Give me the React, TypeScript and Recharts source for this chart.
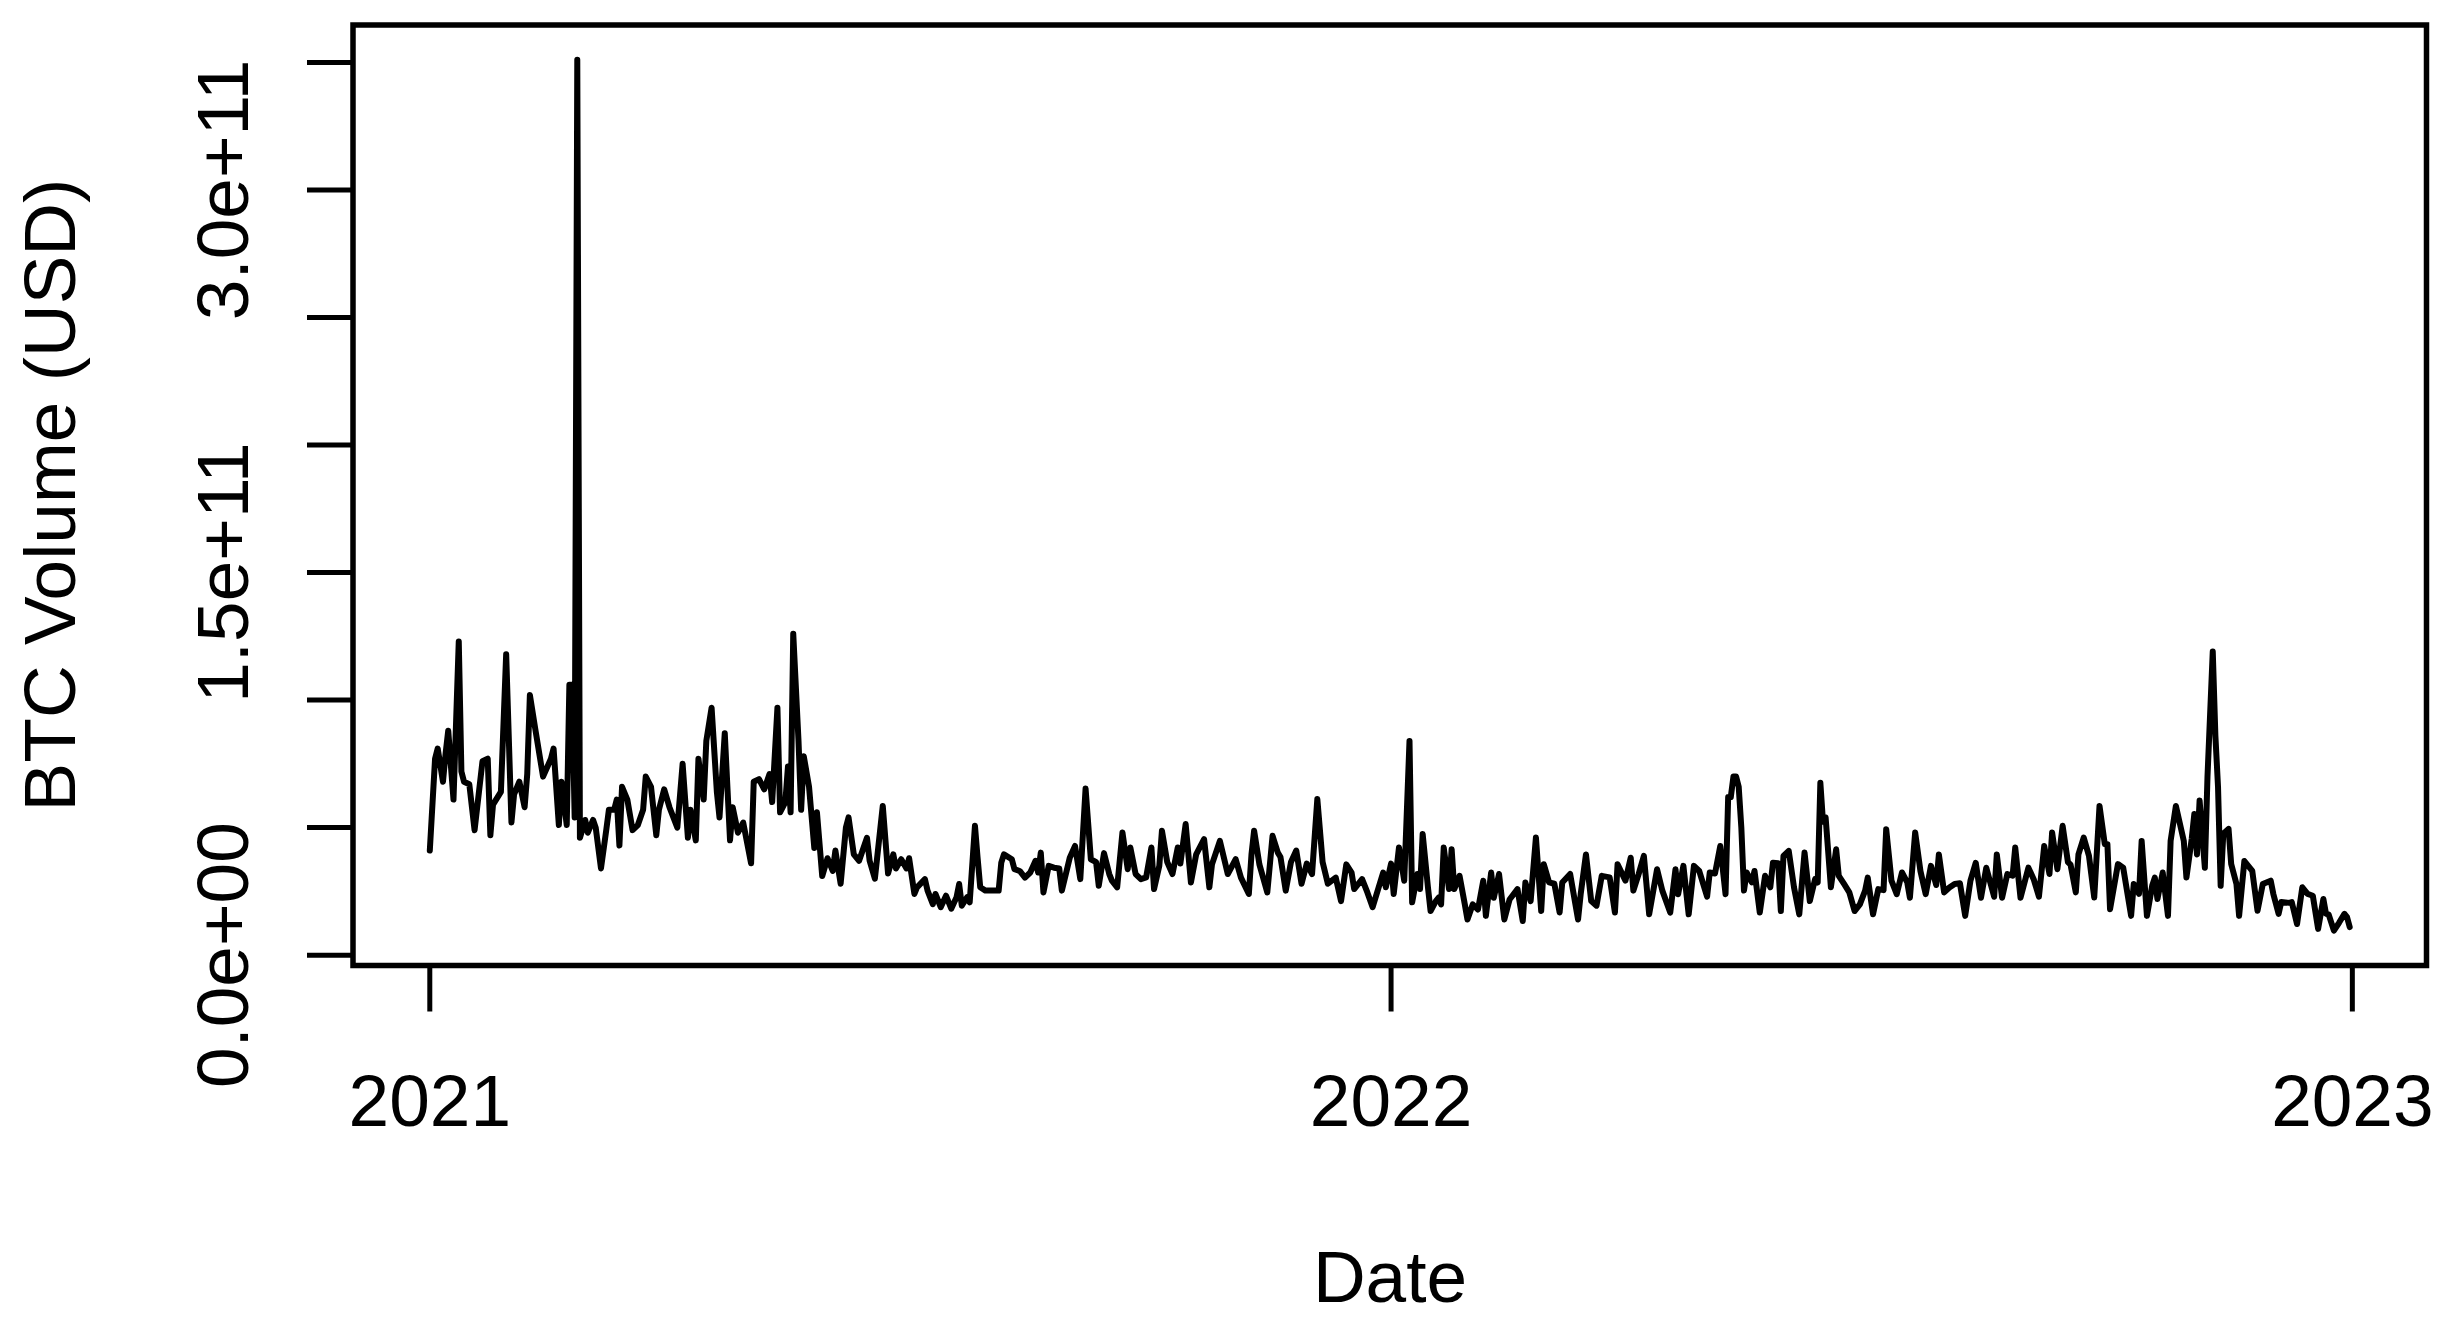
import { useMemo } from "react";
import { LineChart, Line, XAxis, YAxis, ReferenceArea } from "recharts";

const FONT = '"Liberation Sans", Arial, Helvetica, sans-serif';
const FONT_SIZE = 73;

// [days since 2021-01-01, volume in billions of USD]
const VOLUME_2021_H1: [number, number][] = [
  [0, 41], [2, 77], [3, 81], [5, 68], [6, 79], [7, 88], [9, 61], [10, 92], [11, 123], [12, 72],
  [13, 68], [15, 67], [17, 49], [20, 76], [22, 77], [23, 47], [24, 59], [27, 64], [29, 118], [31, 52],
  [32, 63], [34, 68], [36, 58], [37, 71], [38, 102], [40, 89], [43, 70], [46, 77], [47, 81], [49, 51],
  [50, 68], [52, 51], [53, 106], [54, 106], [55, 54], [56, 351], [57, 46], [59, 53], [60, 48], [62, 53],
  [63, 50], [65, 34], [67, 49], [68, 57], [70, 57], [71, 61], [72, 43], [73, 66], [75, 61], [77, 49],
  [79, 51], [81, 57], [82, 70], [84, 66], [86, 47], [87, 57], [89, 65], [91, 58], [94, 50], [96, 75],
  [98, 46], [99, 57], [101, 45], [102, 77], [104, 61], [105, 84], [107, 97], [109, 64], [110, 54], [112, 87],
  [114, 45], [115, 58], [117, 48], [119, 52], [122, 36], [123, 68], [125, 69], [127, 65], [129, 71], [130, 60],
  [132, 97], [133, 56], [135, 60], [136, 74], [137, 56], [138, 126], [140, 84], [141, 57], [142, 78], [144, 66],
  [146, 42], [147, 56], [149, 31], [151, 38], [153, 33], [154, 41], [156, 28], [158, 50], [159, 54], [161, 39.5],
  [163, 37], [166, 46], [167, 37], [169, 30], [171, 49], [172, 58.5], [174, 32], [176, 39.5], [177, 34], [179, 37.6],
];

const VOLUME_2021_H2: [number, number][] = [
  [181, 34], [182, 38], [184, 24], [185, 26.6], [188, 29.8], [189, 25.3], [191, 20], [192, 24], [194, 18.8], [196, 23.3],
  [198, 18.2], [200, 22.7], [201, 27.9], [202, 19.4], [204, 22.7], [205, 20.7], [207, 50.7], [208, 38.2], [209, 26.6], [211, 25.3],
  [213, 25.3], [216, 25.3], [217, 36.3], [218, 39.5], [221, 37.6], [222, 33.7], [224, 33], [226, 30.4], [228, 32.4], [230, 37],
  [231, 32.4], [232, 40.2], [233, 24.6], [235, 35], [237, 34.3], [239, 34], [240, 25.3], [243, 38.2], [245, 42.8], [247, 29.8],
  [249, 65.3], [251, 37.6], [253, 36.5], [254, 27.2], [256, 40], [258, 31.8], [259, 29.2], [261, 26.6], [263, 48.1], [265, 33.7],
  [266, 42.2], [268, 31.8], [270, 29.8], [272, 30.5], [274, 42.2], [275, 25.9], [277, 35], [278, 48.8], [280, 36.5], [282, 31.8],
  [284, 42.2], [285, 35.9], [287, 51.4], [289, 28.5], [291, 39.5], [294, 45.5], [296, 26.6], [297, 35.6], [300, 44.8], [303, 31.8],
  [306, 37.6], [308, 30.4], [311, 24], [312, 39.5], [313, 48.8], [315, 35.6], [318, 24.6], [320, 46.8], [322, 40.2], [323, 38.5],
  [325, 25.3], [327, 36.5], [329, 41], [331, 28], [333, 35.9], [335, 31.8], [337, 61.2], [339, 36.5], [341, 28], [344, 30.4],
  [346, 21.2], [348, 35.6], [350, 32.4], [351, 25.9], [354, 29.8], [356, 24.6], [358, 18.8], [362, 32.4], [363, 26.6],
];

const VOLUME_2022_H1: [number, number][] = [
  [365, 35.9], [366, 24], [368, 42.2], [370, 29.2], [372, 84], [373, 20.7], [375, 31.8], [376, 25.9], [377, 47.5], [379, 26.6],
  [380, 17.3], [382, 21.2], [383, 22.5], [384, 19.9], [385, 42.2], [387, 25.9], [388, 41.5], [389, 25.9], [391, 31.1], [393, 19.9],
  [394, 14], [396, 19.9], [398, 17.9], [400, 29.2], [401, 15.4], [403, 32.4], [404, 22.5], [406, 31.8], [408, 14], [410, 21.8],
  [413, 25.9], [415, 13.4], [416, 28.5], [418, 21.2], [420, 46.1], [422, 17.3], [423, 35.6], [425, 28.5], [427, 28], [429, 16.7],
  [430, 28.5], [433, 31.8], [436, 14], [437, 23.9], [439, 39.5], [441, 21.2], [443, 19.4], [445, 31.1], [448, 30.5], [450, 16.7],
  [451, 35.6], [454, 29.2], [456, 38.2], [457, 25.3], [459, 31.8], [461, 38.9], [463, 16], [466, 33.7], [468, 25.3], [471, 16.7],
  [473, 33.7], [474, 23.9], [476, 35], [478, 16], [480, 35], [482, 33], [485, 22.9], [486, 32.4], [488, 32], [490, 42.8],
  [492, 23.9], [493, 62], [494, 62], [495, 70], [496, 70], [497, 66], [498, 50], [499, 25.3], [500, 32.4], [502, 28.5],
  [503, 33], [505, 16.7], [507, 31.1], [509, 26.6], [510, 36.2], [512, 36], [513, 17.3], [514, 38.9], [516, 40.9], [518, 26.6],
  [520, 16], [522, 40.2], [524, 21.2], [526, 29.8], [527, 28.5], [528, 67.6], [529, 52.3], [530, 54], [532, 26.6], [534, 41.5],
  [535, 31.1], [537, 27.9], [539, 24.6], [541, 17.3], [543, 19.9], [545, 25.3],
];

const VOLUME_2022_H2: [number, number][] = [
  [546, 30.4], [548, 16], [550, 25.9], [552, 25.5], [553, 49.4], [555, 29.2], [557, 23.9], [559, 32.4], [561, 28.5], [562, 22.5],
  [564, 48.1], [566, 33], [568, 23.9], [570, 35], [572, 27.5], [573, 39.5], [575, 24.6], [577, 26.5], [579, 27.9], [581, 28.2],
  [583, 15.4], [585, 29.2], [587, 36.2], [589, 22.5], [591, 34.3], [594, 22.9], [595, 39.5], [597, 22.5], [599, 31.8], [601, 31.2],
  [602, 42.2], [604, 22.5], [607, 34.3], [609, 29.8], [611, 22.9], [613, 42.8], [615, 31.8], [616, 48.1], [618, 33.7], [620, 50.7],
  [622, 36.5], [623, 35.5], [625, 24.6], [626, 39.5], [628, 46.1], [630, 38.9], [632, 22.6], [634, 58.5], [636, 43.5], [637, 43.5],
  [638, 18], [641, 35.7], [643, 34.3], [646, 15.4], [647, 27.9], [649, 24], [650, 44.8], [652, 15.4], [654, 27.2], [655, 30.4],
  [656, 22], [658, 32.4], [660, 15.4], [661, 44.8], [663, 58.5], [666, 44.8], [667, 30.4], [669, 45.5], [670, 55.3], [671, 39.5],
  [672, 60.6], [674, 34.3], [675, 70], [677, 119], [678, 86], [679, 66], [680, 27.2], [681, 47.6], [683, 49.5], [684, 35.7],
  [686, 27.9], [687, 15.4], [689, 36.9], [692, 33], [694, 17.4], [696, 27.9], [699, 29.2], [700, 24], [702, 16.2], [703, 20.8],
  [706, 20.5], [707, 20.8], [709, 12.2], [711, 26.6], [713, 24], [715, 23.3], [717, 10.3], [719, 22], [720, 16.2], [721, 16],
  [723, 9.6], [725, 12.8], [727, 16.2], [728, 14.9], [729, 11],
];

const YEAR_TICKS = [0, 365, 730];
const YEAR_LABELS = ["2021", "2022", "2023"];
const Y_TICKS = [0, 5e10, 1e11, 1.5e11, 2e11, 2.5e11, 3e11, 3.5e11];
const Y_TICK_LABELS: Record<number, string> = {
  0: "0.0e+00",
  150000000000: "1.5e+11",
  300000000000: "3.0e+11",
};

const textStyle = { fontFamily: FONT, fontSize: FONT_SIZE, fill: "#000" };

const YTick = (props: any) => {
  const label = Y_TICK_LABELS[props.payload.value];
  if (!label) return <g />;
  const x = 248;
  return (
    <text x={x} y={props.y} transform={`rotate(-90 ${x} ${props.y})`} textAnchor="middle" {...textStyle}>
      {label}
    </text>
  );
};

const XTick = (props: any) => {
  const i = YEAR_TICKS.indexOf(props.payload.value);
  return (
    <text x={props.x} y={1126} textAnchor="middle" {...textStyle}>
      {YEAR_LABELS[i]}
    </text>
  );
};

const DateTitle = () => (
  <text x={1390} y={1302} textAnchor="middle" {...textStyle}>
    Date
  </text>
);

const VolumeTitle = () => (
  <text x={75} y={495} transform="rotate(-90 75 495)" textAnchor="middle" {...textStyle}>
    BTC Volume (USD)
  </text>
);

const App = () => {
  const data = useMemo(
    () =>
      [...VOLUME_2021_H1, ...VOLUME_2021_H2, ...VOLUME_2022_H1, ...VOLUME_2022_H2].map(([day, bn]) => ({
        day,
        volume: bn * 1e9,
      })),
    [],
  );

  // R-style 4% padding on both axes
  const xDomain = useMemo(() => {
    const lo = data[0].day;
    const hi = data[data.length - 1].day;
    const pad = (hi - lo) * 0.04;
    return [lo - pad, hi + pad];
  }, [data]);

  const yDomain = useMemo(() => {
    const vals = data.map((d) => d.volume);
    const lo = Math.min(...vals);
    const hi = Math.max(...vals);
    const pad = (hi - lo) * 0.04;
    return [lo - pad, hi + pad];
  }, [data]);

  return (
    <div style={{ position: "absolute", left: 0, top: 0, width: 2458, height: 1323, background: "#fff" }}>
      <LineChart width={2458} height={1323} data={data} margin={{ top: 25, right: 31.5, bottom: 0, left: 0 }}>
        <XAxis
          dataKey="day"
          type="number"
          domain={xDomain}
          ticks={YEAR_TICKS}
          interval={0}
          allowDataOverflow
          height={357.5}
          tickSize={46}
          axisLine={false}
          tickLine={{ stroke: "#000", strokeWidth: 5 }}
          tick={XTick}
          label={<DateTitle />}
        />
        <YAxis
          type="number"
          domain={yDomain}
          ticks={Y_TICKS}
          interval={0}
          allowDataOverflow
          width={353}
          tickSize={46}
          axisLine={false}
          tickLine={{ stroke: "#000", strokeWidth: 5 }}
          tick={YTick}
          label={<VolumeTitle />}
        />
        <ReferenceArea
          x1={xDomain[0]}
          x2={xDomain[1]}
          y1={yDomain[0]}
          y2={yDomain[1]}
          fill="none"
          stroke="#000"
          strokeWidth={5.5}
          ifOverflow="visible"
        />
        <Line
          type="linear"
          dataKey="volume"
          stroke="#000"
          strokeWidth={6}
          strokeLinejoin="round"
          strokeLinecap="round"
          dot={false}
          isAnimationActive={false}
        />
      </LineChart>
    </div>
  );
};

export default App;
